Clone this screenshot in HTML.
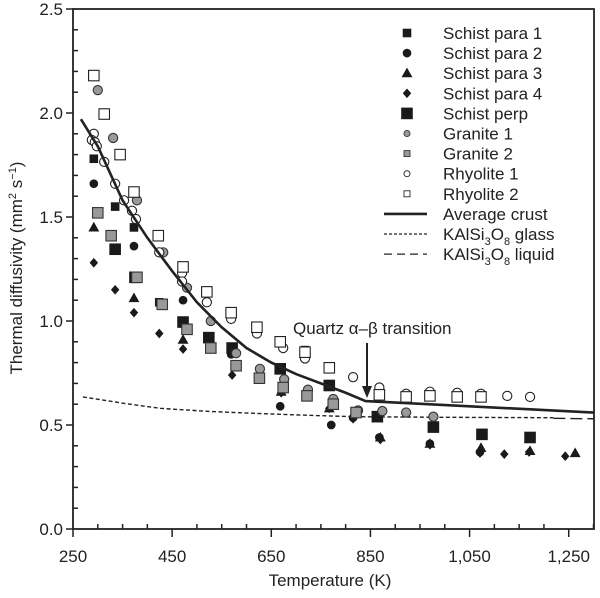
<!DOCTYPE html>
<html><head><meta charset="utf-8"><style>
body{margin:0;background:#fff;}
svg text{font-family:"Liberation Sans",sans-serif;fill:#222;}
</style></head><body>
<svg id="chart" width="600" height="593" viewBox="0 0 600 593"></svg>
<script>
const xTicks=[250,450,650,850,1050,1250];
const xTickLabels=["250","450","650","850","1,050","1,250"];
const yTicks=[0,0.5,1.0,1.5,2.0,2.5];
const yTickLabels=["0.0","0.5","1.0","1.5","2.0","2.5"];
const schistPara1T=[292,335,373,424,621,718];
const schistPara1V=[1.78,1.55,1.45,1.09,0.965,0.86];
const schistPara2T=[292,373,472,569,668,771,815,868,970,1071];
const schistPara2V=[1.66,1.36,1.10,0.84,0.59,0.50,0.535,0.44,0.41,0.37];
const schistPara3T=[292,373,472,670,767,870,970,1073,1172,1263];
const schistPara3V=[1.45,1.11,0.91,0.66,0.58,0.44,0.41,0.39,0.375,0.365];
const schistPara4T=[292,335,373,424,472,571,670,767,815,870,970,1071,1120,1170,1243];
const schistPara4V=[1.28,1.15,1.04,0.94,0.865,0.74,0.655,0.58,0.53,0.43,0.405,0.365,0.36,0.37,0.35];
const schistPerpT=[335,375,472,524,571,668,767,864,977,1075,1172];
const schistPerpV=[1.345,1.21,0.995,0.92,0.87,0.77,0.69,0.54,0.49,0.455,0.44];
const granite1T=[300,331,379,432,480,528,579,627,676,724,775,825,874,922,977];
const granite1V=[2.11,1.88,1.58,1.33,1.16,1.0,0.845,0.77,0.72,0.67,0.625,0.57,0.567,0.56,0.54];
const granite2T=[300,327,379,430,480,528,579,626,674,722,775,821];
const granite2V=[1.52,1.41,1.21,1.08,0.96,0.87,0.785,0.725,0.68,0.64,0.60,0.56];
const rhyolite1T=[292,288,294,298,313,335,353,369,377,424,470,470,520,569,621,674,718,815,868,922,970,1025,1073,1126,1172];
const rhyolite1V=[1.90,1.87,1.86,1.84,1.765,1.66,1.58,1.53,1.49,1.33,1.23,1.19,1.09,1.01,0.94,0.87,0.82,0.73,0.68,0.65,0.66,0.655,0.65,0.64,0.635];
const rhyolite2T=[292,313,345,373,422,472,520,569,621,668,718,767,868,922,970,1025,1073];
const rhyolite2V=[2.18,1.995,1.80,1.62,1.41,1.26,1.14,1.04,0.97,0.90,0.85,0.775,0.645,0.635,0.64,0.635,0.635];
const crustT=[266,300,350,400,450,500,550,600,650,700,750,800,840,1300];
const crustV=[1.97,1.84,1.58,1.40,1.24,1.09,0.97,0.87,0.80,0.745,0.70,0.655,0.615,0.56];
const glassT=[270,350,426,527,627,720,815,1000,1219];
const glassV=[0.635,0.605,0.58,0.565,0.555,0.547,0.54,0.537,0.535];
const liquidT=[1219,1300];
const liquidV=[0.532,0.53];

const svg=document.getElementById('chart');
const NS='http://www.w3.org/2000/svg';
const X0=73,X1=594,Y0=529,Y1=9,TMIN=250,TMAX=1301,VMAX=2.5;
function xs(t){return X0+(t-TMIN)/(TMAX-TMIN)*(X1-X0);}
function ys(v){return Y0-v/VMAX*(Y0-Y1);}
function el(tag,attrs,parent){const e=document.createElementNS(NS,tag);for(const k in attrs)e.setAttribute(k,attrs[k]);(parent||svg).appendChild(e);return e;}

const frame=el('rect',{x:X0,y:Y1,width:X1-X0,height:Y0-Y1,fill:'none',stroke:'#222','stroke-width':1.8});



for(let v=0;v<=2.5001;v+=0.1){
  const major=Math.abs(v*2-Math.round(v*2))<1e-6;
  const t=el('line',{x1:X0-(major?7:0),x2:X0+(major?0:5),y1:ys(v),y2:ys(v),stroke:'#222','stroke-width':1.5});
  
  
}
yTicks.forEach((v,i)=>{
  const t=el('text',{x:X0-10,y:ys(v)+6,'text-anchor':'end','font-size':17});
  t.textContent=yTickLabels[i];
  
  
});
for(let T=250;T<=1300;T+=50){
  const major=(T-250)%200===0;
  const t=el('line',{x1:xs(T),x2:xs(T),y1:Y0+(major?8:0),y2:Y0-(major?0:5),stroke:'#222','stroke-width':1.5});
  
  
}
xTicks.forEach((T,i)=>{
  const t=el('text',{x:xs(T),y:562,'text-anchor':'middle','font-size':17});
  t.textContent=xTickLabels[i];
  
  
});
const xt=el('text',{x:330,y:586,'text-anchor':'middle','font-size':17});
xt.textContent='Temperature (K)';


const yt=el('text',{x:0,y:0,'text-anchor':'middle','font-size':17,transform:'translate(22,268) rotate(-90)'});
yt.innerHTML='Thermal diffusivity (mm<tspan dy="-6" font-size="11">2</tspan><tspan dy="6"> s</tspan><tspan dy="-6" font-size="11">−1</tspan><tspan dy="6">)</tspan>';



function line(T,V,dash,w,name){
  const p=el('polyline',{points:T.map((t,i)=>xs(t)+','+ys(V[i])).join(' '),fill:'none',stroke:'#222','stroke-width':w,'stroke-dasharray':dash});
  
  
}
line(glassT,glassV,'4 2.5',1.4,'kalsi3o8-glass-line');
line(liquidT,liquidV,'12 5',1.4,'kalsi3o8-liquid-line');

function marker(type,cx,cy,g,big){
  let e;
  if(type==='sq'){const s=big?10.5:7.5;e=el('rect',{x:cx-s/2,y:cy-s/2,width:s,height:s},g);}
  else if(type==='circ'){e=el('circle',{cx:cx,cy:cy,r:big?4.6:3.8},g);}
  else if(type==='tri'){e=el('polygon',{points:`${cx},${cy-4.5} ${cx-4.5},${cy+3.5} ${cx+4.5},${cy+3.5}`},g);}
  else {e=el('polygon',{points:`${cx},${cy-4} ${cx+3.5},${cy} ${cx},${cy+4} ${cx-3.5},${cy}`},g);}
  return e;
}
const series=[
 {n:'schist-para-1',T:schistPara1T,V:schistPara1V,type:'sq',big:false,fill:'#1a1a1a',stroke:'#1a1a1a'},
 {n:'schist-para-2',T:schistPara2T,V:schistPara2V,type:'circ',big:false,fill:'#1a1a1a',stroke:'#1a1a1a'},
 {n:'schist-para-3',T:schistPara3T,V:schistPara3V,type:'tri',big:false,fill:'#1a1a1a',stroke:'#1a1a1a'},
 {n:'schist-para-4',T:schistPara4T,V:schistPara4V,type:'dia',big:false,fill:'#1a1a1a',stroke:'#1a1a1a'},
 {n:'schist-perp',T:schistPerpT,V:schistPerpV,type:'sq',big:true,fill:'#1a1a1a',stroke:'#1a1a1a'},
 {n:'granite-1',T:granite1T,V:granite1V,type:'circ',big:true,fill:'#999',stroke:'#333'},
 {n:'granite-2',T:granite2T,V:granite2V,type:'sq',big:true,fill:'#999',stroke:'#333'},
 {n:'rhyolite-1',T:rhyolite1T,V:rhyolite1V,type:'circ',big:true,fill:'#fff',stroke:'#222'},
 {n:'rhyolite-2',T:rhyolite2T,V:rhyolite2V,type:'sq',big:true,fill:'#fff',stroke:'#222'}
];
series.forEach(s=>{
  const g=el('g',{fill:s.fill,stroke:s.stroke,'stroke-width':1.1});
  
  
  s.T.forEach((t,i)=>{
    const m=marker(s.type,xs(t),ys(s.V[i]),g,s.big);
    
    
  });
});
line(crustT,crustV,'',2.6,'average-crust-line');

const at=el('text',{x:293,y:334,'font-size':17});
at.innerHTML='Quartz α–β transition';


const al=el('line',{x1:367,y1:343,x2:367,y2:392,stroke:'#222','stroke-width':2});


const ah=el('polygon',{points:'362,386 372,386 367,398',fill:'#222'});



const lg=el('g',{});


const labels=['Schist para 1','Schist para 2','Schist para 3','Schist para 4','Schist perp','Granite 1','Granite 2','Rhyolite 1','Rhyolite 2'];
labels.forEach((lab,i)=>{
  const y=33+i*20.1,s=series[i];
  const g=el('g',{fill:s.fill,stroke:s.stroke,'stroke-width':1.1},lg);
  const m=marker(s.type,407,y,g,i===4);
  if(i>=5){m.setAttribute('transform',`translate(407,${y}) scale(0.8) translate(-407,${-y})`);}
  
  
  const t=el('text',{x:443,y:y+6,'font-size':17},lg);
  t.textContent=lab;
  
  
});
const lineLeg=[['Average crust','',2.6],['KAlSi<tspan dy="5" font-size="11">3</tspan><tspan dy="-5">O</tspan><tspan dy="5" font-size="11">8</tspan><tspan dy="-5"> glass</tspan>','3 2',1.3],['KAlSi<tspan dy="5" font-size="11">3</tspan><tspan dy="-5">O</tspan><tspan dy="5" font-size="11">8</tspan><tspan dy="-5"> liquid</tspan>','8 5',1.3]];
lineLeg.forEach((d,j)=>{
  const y=33+(9+j)*20.1;
  const l=el('line',{x1:384,x2:427,y1:y,y2:y,stroke:'#222','stroke-width':d[2],'stroke-dasharray':d[1]},lg);
  
  
  const t=el('text',{x:443,y:y+6,'font-size':17},lg);
  t.innerHTML=d[0];
  
  
});
</script>
</body></html>
